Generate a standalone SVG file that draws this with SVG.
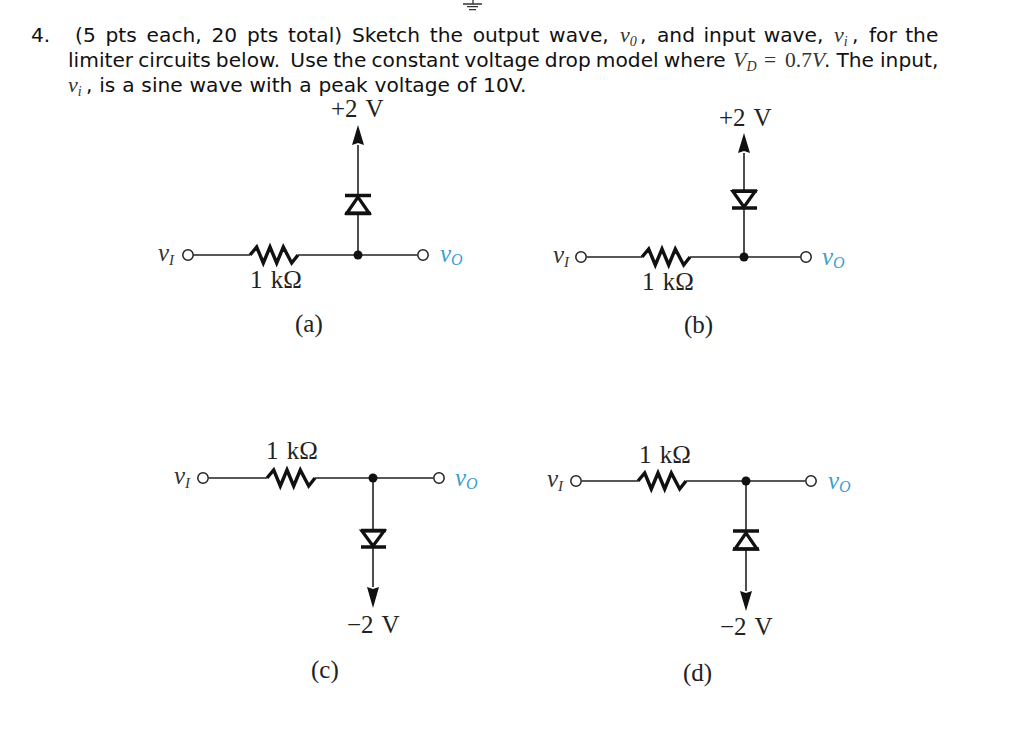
<svg xmlns="http://www.w3.org/2000/svg" xmlns:xlink="http://www.w3.org/1999/xlink" width="1024" height="751" viewBox="0 0 1024 751">
<style>
.t{font-family:"DejaVu Sans","Liberation Sans",sans-serif;font-size:20.2px;fill:#111}
.m{font-family:"Liberation Serif",serif;font-size:22px;font-style:italic;fill:#333}
.n{font-family:"Liberation Serif",serif;font-size:21.500px;fill:#333}
.s{font-family:"Liberation Serif",serif;font-size:14px;font-style:italic;fill:#333}
.l{font-family:"Liberation Serif",serif;font-size:25px;fill:#222}
.w4{word-spacing:2px}
.vi{font-family:"Liberation Serif",serif;font-size:25px;font-style:italic;fill:#333}
.vis{font-family:"Liberation Serif",serif;font-size:15px;font-style:italic;fill:#333}
.vo{font-family:"Liberation Serif",serif;font-size:25px;font-style:italic;fill:#3a9fd0}
.vos{font-family:"Liberation Serif",serif;font-size:16px;font-style:italic;fill:#3a9fd0}
.w{stroke:#222;stroke-width:1.6;fill:none}
.term{fill:#fff;stroke:#222;stroke-width:1.5}
.dot{fill:#111}
.res{fill:none;stroke:#111;stroke-width:3.4;stroke-linejoin:miter}
.diode{fill:#fff;stroke:#111;stroke-width:3.2}
.bar{stroke:#111;stroke-width:3.6}
.arr{fill:#111}
.g{stroke:#333;stroke-width:1.3;fill:none}
</style>
<defs>
<path id="r" class="res" d="M0 0L6.700 -8L13.300 8L20 -8L26.700 8L33.300 -8L41.700 8L48 0"/>
</defs>
<g id="ground"><path class="g" d="M473 0V4M463 4H482M467 6.700H478M469 9.700H476"/></g>
<g id="question">
<text class="t" x="31" y="42">4.</text>
<text class="t" x="75" y="42" word-spacing="3.4">(5 pts each, 20 pts total) Sketch the output wave,</text>
<text class="m" x="620" y="42">v<tspan class="s" dy="4" font-style="normal">0</tspan></text>
<text class="t" x="640" y="42">,</text>
<text class="t" x="657" y="42" word-spacing="2">and input wave,</text>
<text class="m" x="834" y="42">v<tspan class="s" dy="4">i</tspan></text>
<text class="t" x="852" y="42">,</text>
<text class="t" x="869" y="42" word-spacing="2">for the</text>
<text class="t" x="68" y="67" xml:space="preserve" word-spacing="-1.3">limiter circuits below.  Use the constant voltage drop model where</text>
<text class="m" x="733" y="67">V<tspan class="s" dy="4">D</tspan></text>
<text class="n" x="764" y="67">=</text>
<text class="n" x="785" y="67">0.7<tspan font-style="italic">V</tspan></text>
<text class="t" x="824" y="67" word-spacing="-0.4">. The input,</text>
<text class="m" x="68" y="92">v<tspan class="s" dy="4">i</tspan></text>
<text class="t" x="86" y="92" word-spacing="0.4">, is a sine wave with a peak voltage of 10V.</text>
</g>
<g id="connectors">
<path class="w" d="M193 255H250M298 255H417M358 255V145"/>
<path class="w" d="M587 257H642M690 257H800M744 257V153"/>
<path class="w" d="M209 478H267M315 478H433M373 478V587"/>
<path class="w" d="M582 481H638M686 481H805M746 481V591"/>
</g>
<g id="circuit-a">
<circle class="term" cx="188" cy="255" r="5.2"/><circle class="term" cx="423" cy="255" r="5.2"/><circle class="dot" cx="358" cy="255" r="4.5"/>
<use xlink:href="#r" href="#r" x="250" y="255"/>
<path class="diode" d="M358 197L347 213H369Z"/><path class="bar" d="M345 195.500H371M345 213.500H371"/>
<path class="arr" d="M358 125L364 145L358 143L352 145Z"/>
<text class="l w4" x="331" y="117">+2 V</text>
<text class="vi" x="158" y="261">v<tspan class="vis" dy="4">I</tspan></text>
<text class="vo" x="440" y="262">v<tspan class="vos" dy="3">O</tspan></text>
<text class="l w4" x="250" y="288">1 kΩ</text>
<text class="l" x="295" y="332">(a)</text>
</g>
<g id="circuit-b">
<circle class="term" cx="581" cy="257" r="5.2"/><circle class="term" cx="806" cy="257" r="5.2"/><circle class="dot" cx="744" cy="257" r="4.5"/>
<use xlink:href="#r" href="#r" x="642" y="257"/>
<path class="diode" d="M744 207L733 191.500H755Z"/><path class="bar" d="M732 208H757M732 191H757"/>
<path class="arr" d="M744 133L750 153L744 151L738 153Z"/>
<text class="l w4" x="719" y="126">+2 V</text>
<text class="vi" x="553" y="263">v<tspan class="vis" dy="4">I</tspan></text>
<text class="vo" x="822" y="265">v<tspan class="vos" dy="3">O</tspan></text>
<text class="l w4" x="642" y="290">1 kΩ</text>
<text class="l" x="684" y="333">(b)</text>
</g>
<g id="circuit-c">
<circle class="term" cx="203" cy="478" r="5.2"/><circle class="term" cx="439" cy="478" r="5.2"/><circle class="dot" cx="373" cy="478" r="4.5"/>
<use xlink:href="#r" href="#r" x="267" y="478"/>
<path class="diode" d="M373 546L362 531H384Z"/><path class="bar" d="M361 547H386M361 530.500H386"/>
<path class="arr" d="M373 608L367 587L373 589L379 587Z"/>
<text class="l w4" x="347" y="633">−2 V</text>
<text class="vi" x="174" y="484">v<tspan class="vis" dy="4">I</tspan></text>
<text class="vo" x="455" y="486">v<tspan class="vos" dy="3">O</tspan></text>
<text class="l w4" x="266" y="459">1 kΩ</text>
<text class="l" x="311" y="678">(c)</text>
</g>
<g id="circuit-d">
<circle class="term" cx="576" cy="481" r="5.2"/><circle class="term" cx="811" cy="481" r="5.2"/><circle class="dot" cx="746" cy="481" r="4.5"/>
<use xlink:href="#r" href="#r" x="638" y="481"/>
<path class="diode" d="M746 533L735 549H757Z"/><path class="bar" d="M733 531H759M733 549H759"/>
<path class="arr" d="M746 611L740 591L746 593L752 591Z"/>
<text class="l w4" x="720" y="635">−2 V</text>
<text class="vi" x="547" y="487">v<tspan class="vis" dy="4">I</tspan></text>
<text class="vo" x="828" y="489">v<tspan class="vos" dy="3">O</tspan></text>
<text class="l w4" x="639" y="463">1 kΩ</text>
<text class="l" x="683" y="681">(d)</text>
</g>
</svg>
